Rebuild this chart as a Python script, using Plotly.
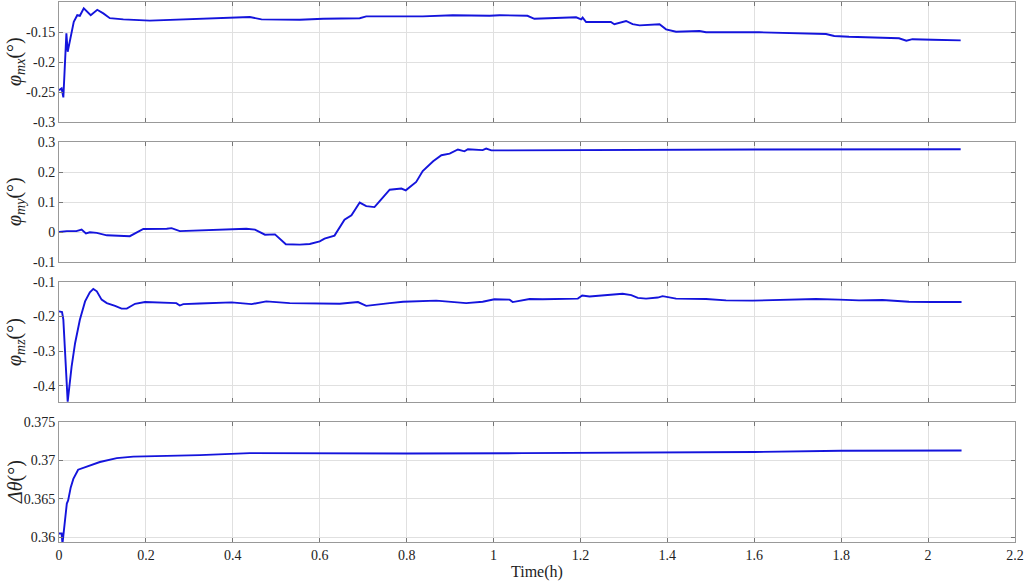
import plotly.graph_objects as go
from plotly.subplots import make_subplots

# phi_mx
t_mx = [0, 0.006, 0.01, 0.012, 0.0145, 0.017, 0.02, 0.024, 0.029, 0.034, 0.042, 0.048, 0.057, 0.064,
        0.073, 0.088, 0.102, 0.117, 0.148, 0.209, 0.278, 0.301, 0.378, 0.439, 0.466, 0.554, 0.608,
        0.692, 0.707, 0.837, 0.906, 0.991, 1.014, 1.078, 1.094, 1.19, 1.2016, 1.205, 1.213, 1.27,
        1.278, 1.294, 1.305, 1.32, 1.336, 1.382, 1.397, 1.42, 1.474, 1.489, 1.611, 1.765, 1.784,
        1.818, 1.895, 1.933, 1.95, 1.964, 2.01, 2.075]
phi_mx = [-0.247, -0.244, -0.259, -0.23, -0.197, -0.152, -0.183, -0.169, -0.1495, -0.133, -0.122,
          -0.123, -0.1105, -0.115, -0.122, -0.113, -0.119, -0.127, -0.129, -0.131, -0.129, -0.128,
          -0.126, -0.125, -0.129, -0.1295, -0.128, -0.127, -0.124, -0.124, -0.122, -0.123, -0.122,
          -0.123, -0.128, -0.1255, -0.129, -0.126, -0.1333, -0.1333, -0.137, -0.1345, -0.1317,
          -0.137, -0.139, -0.137, -0.1455, -0.1495, -0.1483, -0.1505, -0.1505, -0.1533, -0.1567,
          -0.158, -0.159, -0.1605, -0.1645, -0.162, -0.1628, -0.164]

# phi_my
t_my = [0, 0.018, 0.04, 0.052, 0.062, 0.071, 0.087, 0.11, 0.163, 0.194, 0.248, 0.259, 0.278, 0.324,
        0.37, 0.431, 0.451, 0.474, 0.497, 0.522, 0.554, 0.577, 0.6, 0.611, 0.634, 0.657, 0.673,
        0.692, 0.707, 0.726, 0.738, 0.761, 0.788, 0.798, 0.822, 0.837, 0.861, 0.88, 0.899, 0.918,
        0.933, 0.941, 0.975, 0.983, 0.995, 1.244, 1.6, 2.075]
phi_my = [0, 0.003, 0.003, 0.008, -0.005, -0.001, -0.003, -0.011, -0.014, 0.01, 0.011, 0.013, 0.003,
          0.005, 0.008, 0.011, 0.008, -0.009, -0.008, -0.041, -0.042, -0.04, -0.031, -0.022, -0.012,
          0.041, 0.056, 0.098, 0.086, 0.083, 0.103, 0.141, 0.145, 0.139, 0.167, 0.203, 0.236, 0.256,
          0.261, 0.275, 0.269, 0.276, 0.273, 0.278, 0.272, 0.274, 0.275, 0.276]

# phi_mz
t_mz = [0, 0.007, 0.01, 0.014, 0.018, 0.02, 0.023, 0.029, 0.037, 0.048, 0.06, 0.071, 0.079, 0.087,
        0.098, 0.11, 0.129, 0.144, 0.156, 0.175, 0.198, 0.27, 0.278, 0.286, 0.324, 0.397, 0.443,
        0.477, 0.531, 0.646, 0.688, 0.707, 0.761, 0.792, 0.868, 0.914, 0.937, 0.975, 1.002, 1.037,
        1.044, 1.083, 1.113, 1.194, 1.204, 1.221, 1.263, 1.297, 1.317, 1.332, 1.351, 1.378, 1.389,
        1.42, 1.489, 1.535, 1.596, 1.673, 1.742, 1.795, 1.841, 1.895, 1.956, 2.01, 2.077]
phi_mz = [-0.185, -0.187, -0.209, -0.316, -0.403, -0.446, -0.412, -0.345, -0.277, -0.209, -0.156,
          -0.130, -0.12, -0.127, -0.151, -0.161, -0.169, -0.177, -0.177, -0.163, -0.158, -0.161,
          -0.168, -0.164, -0.162, -0.159, -0.164, -0.156, -0.161, -0.163, -0.158, -0.169, -0.161,
          -0.157, -0.154, -0.158, -0.161, -0.157, -0.150, -0.151, -0.158, -0.149, -0.150, -0.148,
          -0.139, -0.142, -0.137, -0.134, -0.138, -0.146, -0.148, -0.145, -0.141, -0.148, -0.149,
          -0.153, -0.154, -0.152, -0.149, -0.151, -0.153, -0.152, -0.157, -0.158, -0.158]

# delta theta
t_dt = [0, 0.006, 0.008, 0.012, 0.018, 0.021, 0.027, 0.033, 0.044, 0.064, 0.094, 0.133, 0.171,
        0.248, 0.324, 0.439, 0.608, 0.8, 1.067, 1.244, 1.6, 1.8, 2.077]
d_theta = [0.3605, 0.3605, 0.3592, 0.3613, 0.3644, 0.3648, 0.3665, 0.3676, 0.3688, 0.3692, 0.3698,
           0.3703, 0.3705, 0.3706, 0.3707, 0.37095, 0.3709, 0.3709, 0.37095, 0.371, 0.3711,
           0.37126, 0.3713]

x_ticks = [0, 0.2, 0.4, 0.6, 0.8, 1, 1.2, 1.4, 1.6, 1.8, 2, 2.2]
x_ticktext = ["0", "0.2", "0.4", "0.6", "0.8", "1", "1.2", "1.4", "1.6", "1.8", "2", "2.2"]

panels = [
    (t_mx, phi_mx, "<i>φ<sub>mx</sub></i>(°)", [-0.3, -0.1],
     [-0.3, -0.25, -0.2, -0.15], ["-0.3", "-0.25", "-0.2", "-0.15"]),
    (t_my, phi_my, "<i>φ<sub>my</sub></i>(°)", [-0.1, 0.3],
     [-0.1, 0, 0.1, 0.2, 0.3], ["-0.1", "0", "0.1", "0.2", "0.3"]),
    (t_mz, phi_mz, "<i>φ<sub>mz</sub></i>(°)", [-0.447, -0.1],
     [-0.4, -0.3, -0.2, -0.1], ["-0.4", "-0.3", "-0.2", "-0.1"]),
    (t_dt, d_theta, "<i>Δθ</i>(°)", [0.3594, 0.375],
     [0.36, 0.365, 0.37, 0.375], ["0.36", "0.365", "0.37", "0.375"]),
]

font = "Liberation Serif"
fig = make_subplots(rows=4, cols=1, shared_xaxes=True, vertical_spacing=20 / 540)

for i, (t, v, title, yr, tv, tt) in enumerate(panels, start=1):
    fig.add_trace(go.Scatter(x=t, y=v, mode="lines", line=dict(color="#1414dc", width=1.9),
                             showlegend=False), row=i, col=1)
    fig.update_yaxes(range=yr, tickvals=tv, ticktext=tt, row=i, col=1)
    fig.update_xaxes(range=[0, 2.2], tickvals=x_ticks, ticktext=x_ticktext,
                     showticklabels=(i == 4), row=i, col=1)
    # y title placed by hand, centred on its panel
    dom = fig.layout["yaxis" if i == 1 else f"yaxis{i}"].domain
    fig.add_annotation(text=title, xref="paper", yref="paper", x=-0.046,
                       y=(dom[0] + dom[1]) / 2, textangle=-90, showarrow=False,
                       xanchor="center", yanchor="middle",
                       font=dict(family=font, size=20, color="#222"))

axis_style = dict(showline=True, mirror="ticks", linecolor="#999", linewidth=1, ticks="inside",
                  ticklen=4, tickcolor="#777", showgrid=True, gridcolor="#e0e0e0", zeroline=False,
                  automargin=False, tickfont=dict(family=font, size=14, color="#222"))
fig.update_xaxes(**axis_style)
fig.update_yaxes(**axis_style)

fig.add_annotation(text="Time(h)", xref="paper", yref="paper", x=0.5, y=-0.056,
                   showarrow=False, xanchor="center", yanchor="middle",
                   font=dict(family=font, size=16, color="#222"))

fig.update_layout(
    width=1025, height=581,
    margin=dict(l=59, r=10, t=2, b=39),
    plot_bgcolor="white", paper_bgcolor="white",
    font=dict(family=font, color="#222"),
)

# the page body has a default 8px margin; drop it so the figure sits at the window corner
fig.write_html("out.html", config={"displayModeBar": False},
               post_script="document.body.style.margin='0';")
